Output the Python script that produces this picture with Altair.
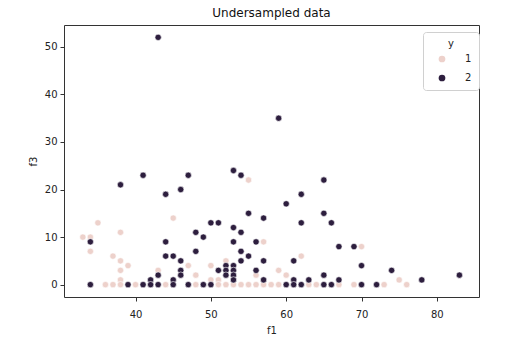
import altair as alt
import pandas as pd

# class y = 1 (light)
f1_class1 = [33, 34, 35, 34, 38, 37, 38, 39, 38, 38, 43,
             45, 47, 48, 50, 52, 50, 51, 55, 57, 62, 59, 60, 56, 70, 75,
             36, 37, 38, 40, 44, 48, 51, 52, 53, 54, 55, 56, 57, 58, 59,
             63, 64, 67, 69, 73, 76]
f3_class1 = [10, 10, 13, 7, 11, 6, 5, 4, 3, 1, 3,
             14, 4, 2, 4, 5, 1, 1, 22, 9, 6, 3, 2, 2, 8, 1,
             0, 0, 0, 0, 0, 0, 0, 0, 0, 0, 0, 0, 0, 0, 0,
             0, 0, 0, 0, 0, 0]

# class y = 2 (dark)
f1_class2 = [34, 38, 41, 43, 44, 47, 46, 44, 44, 45, 43, 42, 46, 46, 46, 45,
             48, 49, 48, 50, 51, 53, 54, 53, 54, 54, 52, 53, 51, 52, 53, 52, 53, 53,
             59, 53, 54, 65, 62, 60, 55, 65, 57, 62, 66, 56, 67, 69, 55, 57, 61, 56,
             65, 57, 61, 63, 67, 70, 74, 78, 83,
             34, 39, 41, 42, 43, 45, 47, 49, 50, 60, 61, 62, 65, 66, 70, 72]
f3_class2 = [9, 21, 23, 52, 19, 23, 20, 9, 6, 6, 2, 1, 5, 3, 2, 1,
             11, 10, 7, 13, 13, 12, 11, 9, 7, 5, 4, 4, 3, 3, 3, 2, 2, 1,
             35, 24, 23, 22, 19, 17, 15, 15, 14, 13, 13, 9, 8, 8, 6, 5, 5, 3,
             2, 1, 1, 1, 1, 4, 3, 1, 2,
             0, 0, 0, 0, 0, 0, 0, 0, 0, 0, 0, 0, 0, 0, 0, 0]

classes = [1, 2]
colors = ["#edd1cb", "#2d1e3e"]

df = pd.concat([
    pd.DataFrame({"f1": f1_class1, "f3": f3_class1, "y": classes[0]}),
    pd.DataFrame({"f1": f1_class2, "f3": f3_class2, "y": classes[1]}),
], ignore_index=True)

FONT = "DejaVu Sans"

chart = alt.Chart(df).mark_circle(
    size=40, opacity=1, stroke="white", strokeWidth=0.6
).encode(
    x=alt.X("f1:Q", scale=alt.Scale(domain=[30.5, 85.6], nice=False, zero=False),
            axis=alt.Axis(values=[40, 50, 60, 70, 80], title="f1")),
    y=alt.Y("f3:Q", scale=alt.Scale(domain=[-2.6, 54.6], nice=False, zero=False),
            axis=alt.Axis(values=[0, 10, 20, 30, 40, 50], title="f3")),
    color=alt.Color("y:O", scale=alt.Scale(domain=classes, range=colors),
                    legend=alt.Legend(
                        title="y", orient="none", legendX=359, legendY=7,
                        titleAnchor="middle", symbolType="circle", symbolSize=45,
                        symbolStrokeWidth=0, padding=7, symbolOffset=7,
                        labelOffset=18, rowPadding=9, titlePadding=5,
                        strokeColor="#d0d0d0", fillColor="white", cornerRadius=3,
                        labelFont=FONT, titleFont=FONT, labelFontSize=10,
                        titleFontSize=10, titleFontWeight="normal",
                        labelColor="#222", titleColor="#222")),
).properties(
    width=415, height=272,
    title=alt.TitleParams("Undersampled data", font=FONT, fontSize=12,
                          fontWeight="normal", color="#111", anchor="middle",
                          offset=5),
    autosize=alt.AutoSizeParams(type="none"),
    padding={"left": 56, "top": 17, "right": 10, "bottom": 48},
).configure_view(
    stroke="#333", strokeWidth=1
).configure_axis(
    grid=False, domain=False, ticks=True, tickSize=4, tickColor="#333",
    labelFont=FONT, labelFontSize=10, labelColor="#222", labelPadding=3,
    titleFont=FONT, titleFontSize=10, titleFontWeight="normal", titleColor="#222"
).configure_axisX(
    labelPadding=8, titlePadding=6
).configure_axisY(
    titlePadding=6
)

chart.save("out.html", embed_options={"renderer": "svg", "actions": False})
